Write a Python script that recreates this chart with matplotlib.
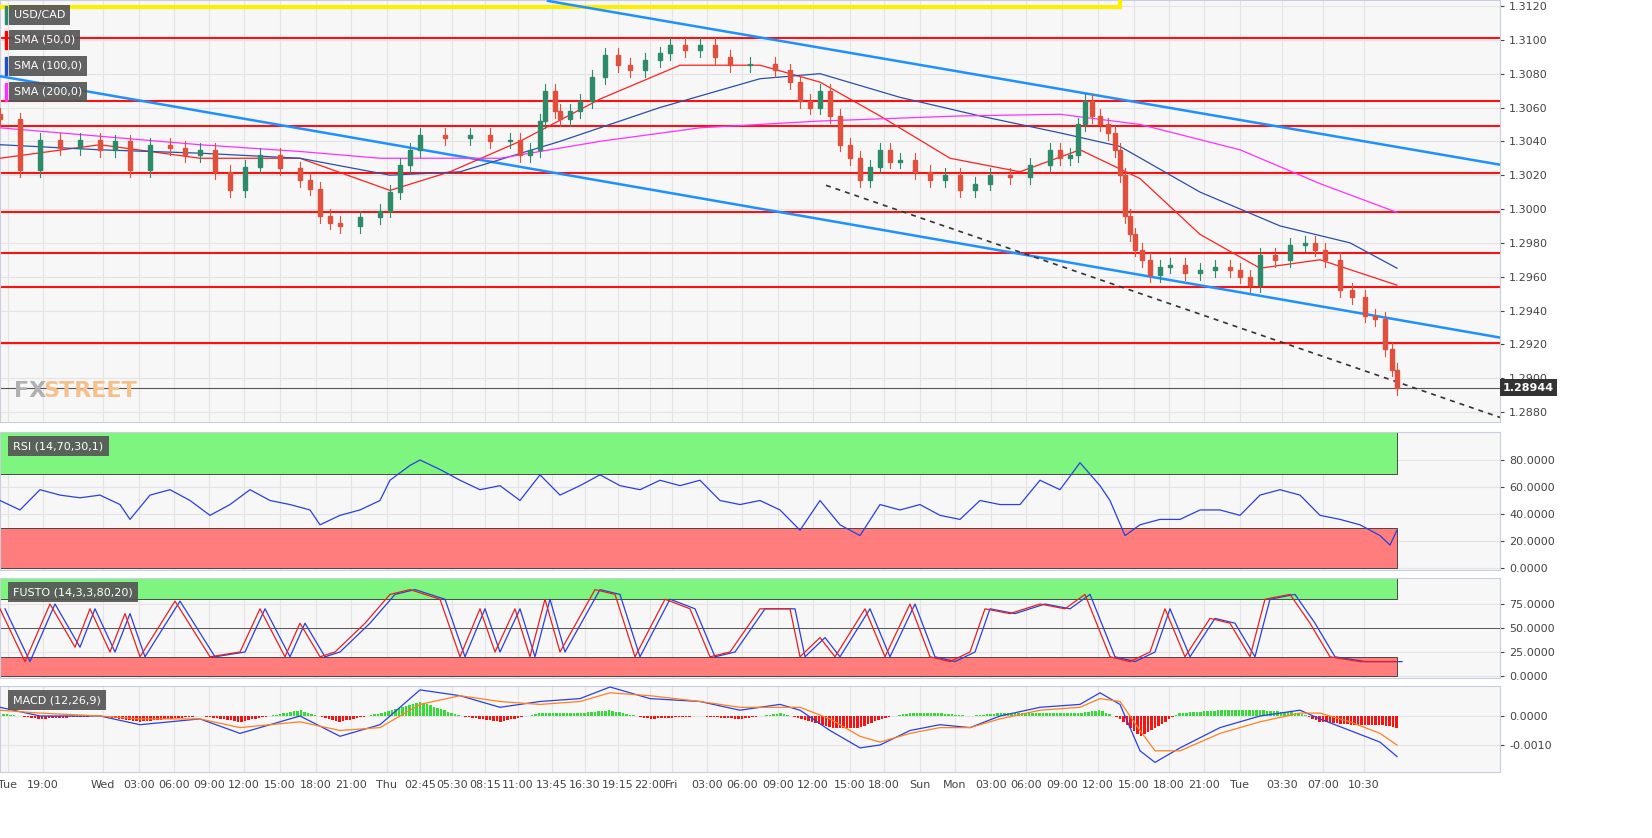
import matplotlib
matplotlib.use("Agg")
import matplotlib.pyplot as plt
import numpy as np
from matplotlib.patches import Rectangle

# ---------------- data ----------------
px_x = [0,20,40,60,80,100,115,130,150,170,185,200,215,230,245,260,280,300,310,320,330,340,360,380,390,400,410,420,445,470,490,510,520,530,540,545,555,560,570,580,592,605,618,630,645,660,670,685,700,715,730,750,775,790,800,810,820,830,840,850,860,870,880,890,900,915,930,945,960,975,990,1010,1030,1050,1060,1070,1078,1085,1092,1100,1108,1115,1120,1125,1130,1135,1142,1150,1160,1170,1185,1200,1215,1230,1240,1250,1260,1275,1290,1305,1315,1325,1340,1352,1365,1375,1385,1392,1397]
closes = [1.3053,1.3023,1.3041,1.3036,1.3041,1.3035,1.3040,1.3023,1.3038,1.3036,1.3032,1.3035,1.3022,1.3011,1.3025,1.3032,1.3024,1.3017,1.3012,1.2996,1.2992,1.2990,1.2995,1.2999,1.3010,1.3026,1.3035,1.3044,1.3042,1.3044,1.3040,1.3041,1.3032,1.3035,1.3052,1.3070,1.3058,1.3053,1.3058,1.3064,1.3078,1.3091,1.3085,1.3082,1.3088,1.3092,1.3097,1.3094,1.3097,1.3090,1.3085,1.3086,1.3082,1.3075,1.3064,1.3060,1.3070,1.3055,1.3038,1.3030,1.3017,1.3025,1.3035,1.3028,1.3029,1.3022,1.3017,1.3020,1.3011,1.3015,1.3020,1.3019,1.3026,1.3035,1.3030,1.3032,1.3050,1.3064,1.3055,1.3050,1.3045,1.3035,1.3020,1.2996,1.2985,1.2976,1.2970,1.2961,1.2966,1.2967,1.2962,1.2964,1.2966,1.2964,1.2960,1.2955,1.2973,1.2970,1.2979,1.2980,1.2976,1.2970,1.2952,1.2948,1.2937,1.2935,1.2917,1.2905,1.2894]

sma50_x = [0,100,200,300,390,450,520,600,680,760,820,880,950,1020,1080,1140,1200,1260,1320,1397]
sma50 = [1.3030,1.3038,1.3030,1.3030,1.3011,1.3022,1.3040,1.3065,1.3085,1.3085,1.3075,1.3055,1.3030,1.3022,1.3035,1.3018,1.2985,1.2965,1.2970,1.2955]
sma100_x = [0,100,200,300,390,460,560,660,760,820,900,980,1060,1120,1200,1280,1350,1397]
sma100 = [1.3038,1.3035,1.3033,1.3030,1.3020,1.3022,1.3040,1.3060,1.3077,1.3080,1.3066,1.3055,1.3045,1.3037,1.3010,1.2990,1.2980,1.2965]
sma200_x = [0,100,200,300,380,500,600,700,820,960,1060,1140,1240,1320,1397]
sma200 = [1.3048,1.3043,1.3038,1.3034,1.3030,1.3030,1.3040,1.3048,1.3052,1.3055,1.3056,1.3050,1.3035,1.3015,1.2998]

levels = [1.3101,1.3064,1.3049,1.3021,1.2998,1.2974,1.2954,1.2921]
last_price = 1.28944

rsi_x = [0,20,40,60,80,100,120,130,150,170,190,210,230,250,270,290,310,320,340,360,380,390,410,420,440,460,480,500,520,540,560,580,600,620,640,660,680,700,720,740,760,780,800,820,840,860,880,900,920,940,960,980,1000,1020,1040,1060,1080,1100,1110,1125,1140,1160,1180,1200,1220,1240,1260,1280,1300,1320,1340,1360,1380,1390,1397]
rsi = [50,43,58,54,52,54,47,36,54,58,50,39,47,58,50,47,43,32,39,43,50,65,76,80,73,65,58,61,50,69,54,61,69,61,58,65,61,65,50,47,50,43,28,50,32,24,47,43,47,39,36,50,47,47,65,58,78,61,50,24,32,36,36,43,43,39,54,58,54,39,36,32,24,17,28]

sto_x = [0,25,50,75,90,110,125,140,175,210,240,260,285,300,320,335,365,390,410,440,460,480,495,515,530,545,560,595,615,635,665,690,710,730,760,790,800,820,835,865,885,910,930,950,970,985,1010,1040,1065,1085,1110,1130,1150,1165,1185,1210,1230,1250,1265,1290,1310,1330,1360,1397]
sto = [70,15,75,30,70,25,65,20,78,20,25,70,20,55,20,25,55,85,90,80,20,70,25,70,20,80,25,90,85,20,80,70,20,25,70,70,20,40,20,70,20,75,20,15,25,70,65,75,70,85,20,15,25,70,20,60,55,20,80,85,55,20,15,15]

macd_x = [0,40,100,140,200,240,300,340,380,420,460,500,540,580,610,650,700,740,780,800,830,860,880,910,940,970,1000,1040,1080,1100,1120,1140,1155,1180,1220,1260,1300,1320,1350,1380,1397]
macd = [0.0003,0.0,0.0,-0.0003,-0.0001,-0.0006,0.0,-0.0007,-0.0003,0.0009,0.0007,0.0003,0.0005,0.0006,0.0010,0.0006,0.0005,0.0002,0.0004,0.0002,-0.0005,-0.0011,-0.0010,-0.0005,-0.0003,-0.0004,0.0,0.0003,0.0004,0.0008,0.0004,-0.0012,-0.0016,-0.0011,-0.0004,0.0,0.0002,-0.0001,-0.0005,-0.0009,-0.0014]
signal = [0.0002,0.0001,0.0,-0.0001,-0.0001,-0.0004,-0.0002,-0.0005,-0.0004,0.0004,0.0007,0.0005,0.0004,0.0005,0.0008,0.0007,0.0005,0.0003,0.0003,0.0003,-0.0001,-0.0007,-0.0009,-0.0006,-0.0004,-0.0004,-0.0001,0.0002,0.0003,0.0006,0.0005,-0.0005,-0.0012,-0.0012,-0.0006,-0.0002,0.0001,0.0001,-0.0002,-0.0006,-0.0010]

tick_pos = [8,43,103,139,174,209,244,280,316,351,387,420,452,485,518,552,585,618,650,672,707,742,778,813,850,884,920,955,991,1026,1062,1098,1134,1169,1204,1240,1282,1323,1364]
tick_lab = ["Tue","19:00","Wed","03:00","06:00","09:00","12:00","15:00","18:00","21:00","Thu","02:45","05:30","08:15","11:00","13:45","16:30","19:15","22:00","Fri","03:00","06:00","09:00","12:00","15:00","18:00","Sun","Mon","03:00","06:00","09:00","12:00","15:00","18:00","21:00","Tue","03:30","07:00","10:30"]

# ---------------- figure ----------------
W, H = 1652, 838
fig = plt.figure(figsize=(W/100, H/100), dpi=100)
fig.patch.set_facecolor("white")
BG = "#f7f7f7"
GRID = "#e4e4e4"

def mk(top, bottom):
    ax = fig.add_axes([0, 1-bottom/H, 1500/W, (bottom-top)/H])
    ax.set_facecolor(BG)
    ax.set_xlim(0, 1500)
    ax.yaxis.tick_right()
    for s in ax.spines.values():
        s.set_color("#c8cde0")
    ax.tick_params(axis="y", labelsize=8, colors="#444", length=3)
    ax.tick_params(axis="x", length=0, labelbottom=False)
    ax.set_xticks(tick_pos)
    ax.grid(True, color=GRID, lw=0.8)
    ax.set_axisbelow(True)
    return ax

def ylin(ax, top, bottom, p1, v1, p2, v2):
    k = (v2 - v1) / (p2 - p1)
    ax.set_ylim(v1 + (bottom - p1) * k, v1 + (top - p1) * k)

# ----- main price panel -----
axp = mk(0, 422)
ylin(axp, 0, 422, 6, 1.3120, 412, 1.2880)
pt = np.arange(1.2880, 1.31201, 0.002)
axp.set_yticks(pt)
axp.set_yticklabels([f"{v:.4f}" for v in pt])
for lv in levels:
    axp.axhline(lv, color="#ff1010", lw=1.5, zorder=2)
axp.axhline(last_price, color="#555", lw=0.8, zorder=2)
axp.plot([0, 1120], [1.31197, 1.31197], color="#ffee00", lw=3, zorder=3, clip_on=False)
axp.plot([1120, 1120], [1.31197, 1.3125], color="#ffee00", lw=3, zorder=3, clip_on=False)
axp.plot([548, 1500], [1.3123, 1.30262], color="#1e90ff", lw=1.8, zorder=4)
axp.plot([0, 1500], [1.30785, 1.2924], color="#1e90ff", lw=1.8, zorder=4)
axp.plot([826, 1500], [1.3014, 1.28768], color="#333", lw=1.2, ls=(0, (3, 3)), zorder=4)
axp.plot(sma50_x, sma50, color="#ff2020", lw=0.9, zorder=5)
axp.plot(sma100_x, sma100, color="#2a4fa8", lw=0.9, zorder=5)
axp.plot(sma200_x, sma200, color="#ff30ff", lw=0.9, zorder=5)
opens = [closes[0] + 0.0003] + closes[:-1]
for x, o, c in zip(px_x, opens, closes):
    col = "#2e8b6a" if c >= o else "#e0503c"
    lo, hi = min(o, c), max(o, c)
    axp.plot([x, x], [lo - 0.0004, hi + 0.0004], color=col, lw=0.8, zorder=6)
    axp.add_patch(Rectangle((x - 2, lo), 4, max(hi - lo, 0.00004), color=col, zorder=6))
axp.text(1503, last_price, "1.28944", transform=axp.transData, fontsize=8, color="white",
         va="center", ha="left", fontweight="bold", clip_on=False,
         bbox=dict(boxstyle="square,pad=0.3", fc="#333", ec="none"))
axp.text(14, 1.28925, "FX", fontsize=16, color="#b0b0b0", fontweight="bold", va="center", zorder=7)
axp.text(43, 1.28925, "STREET", fontsize=16, color="#f5c08a", fontweight="bold", va="center", zorder=7)

def tag(ax, y, text, bar):
    ax.text(0.0093, y, text, transform=ax.transAxes, fontsize=8, color="white", va="center",
            zorder=10, bbox=dict(boxstyle="square,pad=0.45", fc="#555555", ec="none", alpha=0.92))
    ax.add_patch(Rectangle((0.003, y - 0.022), 0.0015, 0.044, transform=ax.transAxes,
                           color=bar, zorder=11, clip_on=False))

tag(axp, 1-15/422, "USD/CAD", "#2e8b6a")
tag(axp, 1-40/422, "SMA (50,0)", "#ff0000")
tag(axp, 1-66/422, "SMA (100,0)", "#2050c0")
tag(axp, 1-92/422, "SMA (200,0)", "#ff30ff")

# ----- RSI -----
axr = mk(432, 570)
ylin(axr, 432, 570, 460, 80, 568, 0)
axr.add_patch(Rectangle((0, 70), 1397, 40, fc="#7ef57e", ec="#333", lw=0.6, zorder=1))
axr.add_patch(Rectangle((0, 0), 1397, 30, fc="#ff7d7d", ec="#333", lw=0.6, zorder=1))
axr.plot(rsi_x, rsi, color="#2a3fe0", lw=0.9, zorder=3)
axr.set_yticks([0, 20, 40, 60, 80])
axr.set_yticklabels([f"{v:.4f}" for v in [0, 20, 40, 60, 80]])
axr.text(0.009, 1-14/138, "RSI (14,70,30,1)", transform=axr.transAxes, fontsize=8, color="white",
         va="center", zorder=10, bbox=dict(boxstyle="square,pad=0.45", fc="#555", ec="none", alpha=0.92))

# ----- FUSTO -----
axs = mk(578, 678)
ylin(axs, 578, 678, 604, 75, 676, 0)
axs.add_patch(Rectangle((0, 80), 1397, 25, fc="#7ef57e", ec="#333", lw=0.6, zorder=1))
axs.add_patch(Rectangle((0, 0), 1397, 20, fc="#ff7d7d", ec="#333", lw=0.6, zorder=1))
axs.axhline(50, color="#555", lw=0.7, zorder=2)
axs.plot(np.array(sto_x) + 5, sto, color="#2a3fe0", lw=0.9, zorder=3)
axs.plot(sto_x, sto, color="#e82020", lw=0.9, zorder=4)
axs.set_yticks([0, 25, 50, 75])
axs.set_yticklabels([f"{v:.4f}" for v in [0, 25, 50, 75]])
axs.text(0.009, 1-14/100, "FUSTO (14,3,3,80,20)", transform=axs.transAxes, fontsize=8, color="white",
         va="center", zorder=10, bbox=dict(boxstyle="square,pad=0.45", fc="#555", ec="none", alpha=0.92))

# ----- MACD -----
axm = mk(686, 772)
ylin(axm, 686, 772, 716, 0.0, 745, -0.0010)
hx = np.arange(0, 1398, 3.5)
m_i = np.interp(hx, macd_x, macd)
s_i = np.interp(hx, macd_x, signal)
hist = m_i - s_i
axm.bar(hx, hist, width=2.6, color=np.where(hist >= 0, "#33dd33", "#ff1010"), zorder=2)
axm.plot(macd_x, macd, color="#2a3fe0", lw=0.9, zorder=3)
axm.plot(macd_x, signal, color="#ff8020", lw=0.9, zorder=3)
axm.set_yticks([-0.001, 0.0])
axm.set_yticklabels(["-0.0010", "0.0000"])
axm.text(0.009, 1-14/86, "MACD (12,26,9)", transform=axm.transAxes, fontsize=8, color="white",
         va="center", zorder=10, bbox=dict(boxstyle="square,pad=0.45", fc="#555", ec="none", alpha=0.92))
axm.tick_params(axis="x", labelbottom=True, labelsize=8, colors="#444", pad=6)
axm.set_xticklabels(tick_lab)

fig.savefig("out.png", dpi=100)
